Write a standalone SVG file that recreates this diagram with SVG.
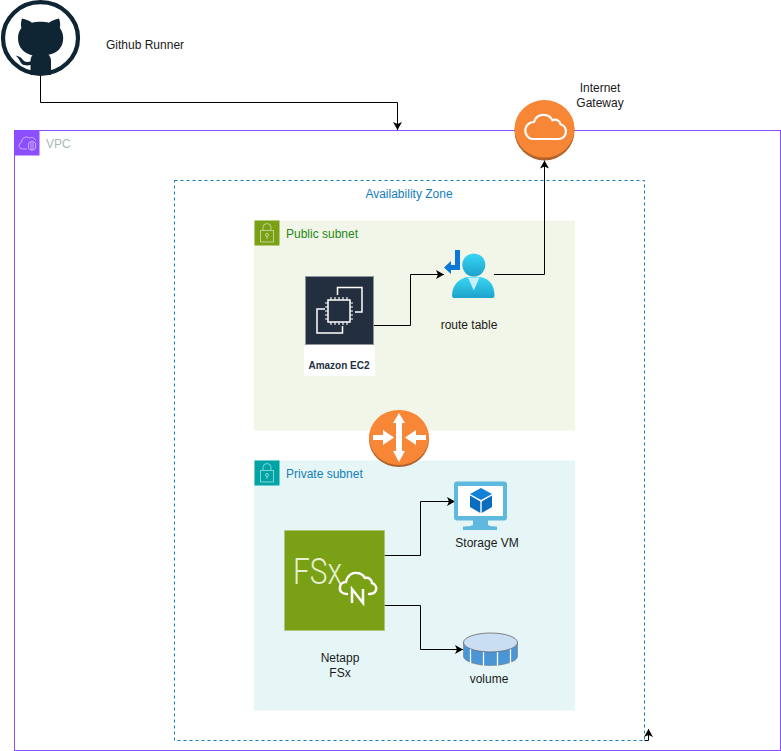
<svg xmlns="http://www.w3.org/2000/svg" width="781" height="751" viewBox="0 0 781 751">
<style>
text{font-family:"Liberation Sans",Arial,sans-serif;font-size:12px;fill:#1a1a1a}
.m{text-anchor:middle}
.c{fill:none;stroke:#000;stroke-width:1}
.w{fill:none;stroke:#fff;stroke-width:1.500}
.t{fill:none;stroke:#fff;stroke-width:.8;opacity:.65}
.wf{fill:#fff;stroke:none}
</style>
<defs>
<marker id="a" markerUnits="userSpaceOnUse" markerWidth="9" markerHeight="10" refX="8" refY="4.5" orient="auto"><path d="M0 0L8 4.5L0 9L2 4.5Z" fill="#000"/></marker>
<linearGradient id="u" x1="0" y1="0" x2="0" y2="1"><stop offset="0" stop-color="#37d6f5"/><stop offset="1" stop-color="#1ea2cb"/></linearGradient>
</defs>
<g id="vpc">
<rect x="14.500" y="130.500" width="766" height="620" fill="none" stroke="#8c4fff"/>
<rect x="14.500" y="130.500" width="25" height="25" fill="#8c4fff"/>
<path d="M27 149h-4a3.500 3.500 0 0 1-1.500-6.800a5 5 0 0 1 8-4.200a4 4 0 0 1 6 2.500" class="t"/>
<path d="M32 141l3.500 2v5.500l-3.500 2l-3.500-2V143zM31 142v8M33 142v8" class="t"/>
<text x="46" y="148" style="fill:#aab7b8">VPC</text>
</g>
<g id="az">
<rect x="174.500" y="180.500" width="470" height="560" fill="none" stroke="#147eba" stroke-dasharray="3 3"/>
<text x="409" y="198" class="m" style="fill:#147eba">Availability Zone</text>
</g>
<g id="public-subnet">
<rect x="254" y="220.500" width="321" height="210" fill="#f2f6e8"/>
<rect x="254.500" y="220.500" width="25" height="25" fill="#7aa116"/>
<path d="M263 230v-2.500a4 4 0 0 1 8 0V230M260.500 230.500h13v11.500h-13z" class="t"/>
<circle cx="267" cy="235" r="1.500" class="t"/><path d="M267 236.500v2.500" class="t"/>
<text x="286" y="238" style="fill:#248814">Public subnet</text>
</g>
<g id="private-subnet">
<rect x="254" y="460.500" width="321" height="250" fill="#e6f6f7"/>
<rect x="254.500" y="460.500" width="25" height="25" fill="#00a4a6"/>
<path d="M263 470v-2.500a4 4 0 0 1 8 0V470M260.500 470.500h13v11.500h-13z" class="t"/>
<circle cx="267" cy="475" r="1.500" class="t"/><path d="M267 476.500v2.500" class="t"/>
<text x="286" y="478" style="fill:#147eba">Private subnet</text>
</g>
<g id="connectors">
<path class="c" d="M40.500 75V102.500H397.500V130" marker-end="url(#a)"/>
<path class="c" d="M374 325.500H410.500V274.500H444" marker-end="url(#a)"/>
<path class="c" d="M494 274.500H544.500V160.500" marker-end="url(#a)"/>
<path class="c" d="M384 555.500H420.500V501.500H455" marker-end="url(#a)"/>
<path class="c" d="M384 605.500H420.500V649.500H463" marker-end="url(#a)"/>
<path class="c" d="M644.500 740.500H648.500V729" marker-end="url(#a)"/>
</g>
<g id="github">
<ellipse cx="40.500" cy="38" rx="37.500" ry="35.800" fill="#fff" stroke="#0f2533" stroke-width="4.200"/>
<path d="M22 18.500c4 .8 7.500 2.300 10 4.200c5-1.300 12-1.300 17 0c2.500-1.900 6-3.500 10-4.200c1.300 3.500 1.500 7 .8 9.500c2.300 3 3.400 6.300 3.400 10c0 10-6.500 15.500-14.700 16.800c1.700 1.500 2.500 3.500 2.500 6V75H30.500V65c-3 .8-6.500 .5-8.500-1c-2-2-3-6-6.500-8.500c2.500 .3 5.500 1.500 7.500 4.500c1.500 2 4 2.500 7.500 1.500c0-2.500 .5-4.800 2-6C24.500 53.500 18 48 18 38c0-3.700 1.100-7 3.400-10c-.7-2.500-.7-6 .6-9.500z" fill="#0f2533"/>
<text x="106" y="49">Github Runner</text>
</g>
<g id="internet-gateway">
<ellipse cx="544.500" cy="131" rx="30" ry="29.500" fill="#b0632c"/>
<ellipse cx="544.500" cy="128.800" rx="30" ry="28.800" fill="#f78636"/>
<path d="M532 139h26.500a7.500 7.500 0 0 0 2-14.700a5.500 5.500 0 0 0-8-4a10 10 0 0 0-18.500 1.700a8.600 8.600 0 0 0-2 17z" fill="none" stroke="#fff" stroke-width="2.200"/>
<text x="600" y="92" class="m">Internet</text>
<text x="600" y="107" class="m">Gateway</text>
</g>
<g id="ec2">
<rect x="304" y="345" width="71" height="31" fill="#fff"/>
<rect x="305.500" y="276.500" width="68" height="68" fill="#232f3e" stroke="#8f959c"/>
<path d="M337.500 295V287.500H362V312H355M325 309H317V333H342.500V326" class="w"/>
<rect x="328" y="300" width="22" height="22" class="w"/>
<path d="M331 297v3M335 297v3M339 297v3M343 297v3M347 297v3M331 322v3M335 322v3M339 322v3M343 322v3M347 322v3M325 303h3M325 307h3M325 311h3M325 315h3M325 319h3M350 303h3M350 307h3M350 311h3M350 315h3M350 319h3" class="w" style="stroke-width:1.100"/>
<text x="339" y="369" class="m" style="font-size:10px;font-weight:bold;fill:#232f3e">Amazon EC2</text>
</g>
<g id="route-table">
<path d="M455 250h5v20h-9v4l-7-6.500l7-6.500v4h4z" fill="#0b78d8"/>
<circle cx="473.800" cy="265" r="11.500" fill="url(#u)"/>
<path d="M454 298c-1 0-2-.8-2-2c0-10 6-17.500 16-19h12c10 1.500 14.500 9 14.500 19c0 1.200-1 2-2 2z" fill="url(#u)"/>
<path d="M468 277.500h11.500l-5.700 13z" fill="#c8f0fa"/>
<text x="469" y="329" class="m">route table</text>
</g>
<g id="router">
<ellipse cx="399" cy="439.500" rx="30" ry="27.500" fill="#b0632c"/>
<ellipse cx="399" cy="437.500" rx="30" ry="27.500" fill="#f78636"/>
<path d="M399 413l6 10h-3v28h3l-6 11l-6-11h3V423h-3z" class="wf"/>
<path d="M373 435h10v-5l11 7.500l-11 7.500v-5h-10zM426 435h-10v-5l-11 7.500l11 7.500v-5h10z" class="wf"/>
</g>
<g id="fsx">
<rect x="284.500" y="530.500" width="100" height="100" fill="#7aa116" stroke="#a9c47c" stroke-width=".7"/>
<text x="293" y="584" textLength="49" lengthAdjust="spacingAndGlyphs" style="font-family:Roboto,'Liberation Sans',sans-serif;font-size:36px;font-weight:300;fill:#e6efcf">FSx</text>
<path d="M347 594c-5 0-8-3-7-7c0-3 3-5 6-5c1-6 6-10 11-9c3 0 6 2 8 5c4-1 7 2 7 5c3 1 5 4 4 7c-1 3-3 4-7 4" fill="#7aa116" stroke="#fff" stroke-width="2.400" stroke-linecap="round"/>
<path d="M352 603V589L363 603V589" fill="none" stroke="#fff" stroke-width="2.500"/>
<text x="340" y="662" class="m">Netapp</text>
<text x="340" y="677" class="m">FSx</text>
</g>
<g id="storage-vm">
<path d="M473 519h15v5.500c0 1 3 2 9 2v3.500h-34v-3.500c6 0 10-1 10-2z" fill="#5fb8de"/>
<rect x="454" y="481.500" width="53" height="39" rx="3" fill="#5fb8de"/>
<rect x="458" y="486" width="45" height="30" fill="#fff"/>
<path d="M481 488l11 6l-11 6l-11-6z" fill="#1180d8"/>
<path d="M470 495.500l10.300 6V513l-10.300-6zM492 495.500l-10.300 6V513l10.300-6z" fill="#0a6cbf"/>
<text x="487" y="547" class="m">Storage VM</text>
</g>
<g id="volume">
<path d="M463.500 642.500v14c0 4.500 12 9 27 9s27-4.500 27-9v-14z" fill="#4a95d6" stroke="#777" stroke-width=".6"/>
<path d="M470.500 649v14M483.500 652v13.500M497.500 652v13.500M510.500 649v14" stroke="#fff" stroke-width="1.300" fill="none"/>
<ellipse cx="490.500" cy="642.500" rx="27" ry="9.500" fill="#c9def2" stroke="#666" stroke-width=".8"/>
<text x="489" y="683" class="m">volume</text>
</g>
</svg>
